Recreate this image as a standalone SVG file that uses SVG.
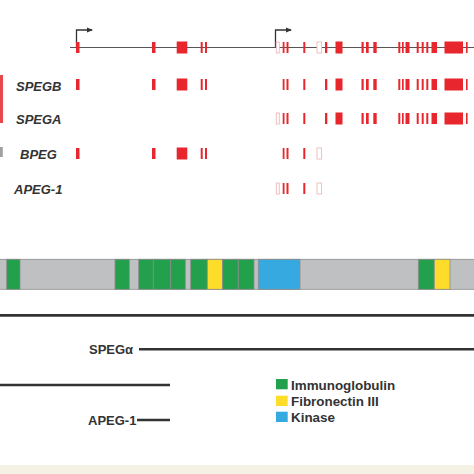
<svg xmlns="http://www.w3.org/2000/svg" width="474" height="474" viewBox="0 0 474 474">
<style>
.ex{fill:#e8262d}
.op{fill:#fff;stroke:#f0b8b8;stroke-width:0.9}
.gl{stroke:#555;stroke-width:1;fill:none}
.lbl{font-family:"Liberation Sans",Arial,sans-serif;font-weight:bold;font-style:italic;font-size:13px;fill:#333}
.plbl{font-family:"Liberation Sans",Arial,sans-serif;font-weight:bold;font-size:13px;fill:#333}
.leg{font-family:"Liberation Sans",Arial,sans-serif;font-weight:bold;font-size:13.4px;fill:#333}
.dom{stroke:#8c8c8c;stroke-width:0.8}
.g{fill:#22a04b}.y{fill:#fedc2a}.b{fill:#36a9e1}.gr{fill:#bfc0c2}
.pl{stroke:#333;stroke-width:2.6}
</style>
<defs>
<marker id="ah" markerWidth="6" markerHeight="6" refX="5" refY="3" orient="auto" markerUnits="userSpaceOnUse">
<path d="M0,0.5 L6,3 L0,5.5 z" fill="#333"/>
</marker>
<g id="exL">
<rect class="ex" x="76" y="-5.5" width="3.5" height="11"/>
<rect class="ex" x="152" y="-5.5" width="3.5" height="11"/>
<rect class="ex" x="176.7" y="-6" width="10.6" height="12"/>
<rect class="ex" x="200.7" y="-5.5" width="2" height="11"/>
<rect class="ex" x="205" y="-5.5" width="2" height="11"/>
</g>
<g id="exR1">
<rect class="ex" x="282.7" y="-5.5" width="1.8" height="11"/>
<rect class="ex" x="286.5" y="-5.5" width="2" height="11"/>
<rect class="ex" x="303.3" y="-5.5" width="2" height="11"/>
</g>
<g id="exR2">
<rect class="ex" x="325" y="-5.5" width="2.3" height="11"/>
<rect class="ex" x="335.5" y="-6" width="7" height="12"/>
<rect class="ex" x="361.5" y="-5.5" width="2.2" height="11"/>
<rect class="ex" x="366" y="-5.5" width="2.7" height="11"/>
<rect class="ex" x="373.3" y="-5.5" width="3.4" height="11"/>
<rect class="ex" x="398.3" y="-5.5" width="2" height="11"/>
<rect class="ex" x="402" y="-5.5" width="1.7" height="11"/>
<rect class="ex" x="405.5" y="-5.5" width="4" height="11"/>
<rect class="ex" x="416.7" y="-5.5" width="2" height="11"/>
<rect class="ex" x="421.7" y="-5.5" width="2" height="11"/>
<rect class="ex" x="426.3" y="-5.5" width="2" height="11"/>
<rect class="ex" x="431.5" y="-5.5" width="5.5" height="11"/>
<rect class="ex" x="444.5" y="-6" width="18.5" height="12"/>
<rect class="ex" x="466" y="-5.5" width="1.6" height="11"/>
</g>
<rect id="opA" class="op" x="276.3" y="-5.5" width="3" height="11"/>
<rect id="opB" class="op" x="317" y="-5.5" width="4.6" height="11"/>
</defs>

<g id="connectors">
<line class="gl" x1="70" y1="47.5" x2="474" y2="47.5"/>
<path d="M76.5,47.5 V30 H92" fill="none" stroke="#333" stroke-width="1.3" marker-end="url(#ah)"/>
<path d="M275.5,47.5 V30 H291" fill="none" stroke="#333" stroke-width="1.3" marker-end="url(#ah)"/>
</g>

<g id="gene" transform="translate(0,47.5)">
<use href="#exL"/><use href="#opA"/><use href="#exR1"/><use href="#opB"/><use href="#exR2"/>
</g>

<g id="bars">
<rect x="0" y="75" width="3" height="48" fill="#e8474c"/>
<rect x="0" y="147" width="2.8" height="10" fill="#a0a0a0"/>
</g>

<g id="SPEGB">
<text class="lbl" x="16" y="91">SPEGB</text>
<g transform="translate(0,84.5)"><use href="#exL"/><use href="#exR1"/><use href="#exR2"/></g>
</g>
<g id="SPEGA">
<text class="lbl" x="16" y="124">SPEGA</text>
<g transform="translate(0,118.5)"><use href="#opA"/><use href="#exR1"/><use href="#exR2"/></g>
</g>
<g id="BPEG">
<text class="lbl" x="20" y="159">BPEG</text>
<g transform="translate(0,153.5)"><use href="#exL"/><use href="#exR1"/><use href="#opB"/></g>
</g>
<g id="APEG1">
<text class="lbl" x="14" y="193.5">APEG-1</text>
<g transform="translate(0,188.5)"><use href="#opA"/><use href="#exR1"/><use href="#opB"/></g>
</g>

<g id="protein">
<rect class="gr dom" x="-2" y="259.3" width="480" height="30"/>
<rect class="g dom" x="6.7" y="259.3" width="13.3" height="30"/>
<rect class="g dom" x="115" y="259.3" width="14.3" height="30"/>
<rect class="g dom" x="138.7" y="259.3" width="14.6" height="30"/>
<rect class="g dom" x="153.3" y="259.3" width="17.4" height="30"/>
<rect class="g dom" x="170.7" y="259.3" width="14.6" height="30"/>
<rect class="g dom" x="190.7" y="259.3" width="16.6" height="30"/>
<rect class="y dom" x="207.3" y="259.3" width="15.4" height="30"/>
<rect class="g dom" x="222.7" y="259.3" width="15.6" height="30"/>
<rect class="g dom" x="238.3" y="259.3" width="15.7" height="30"/>
<rect class="b dom" x="258.3" y="259.3" width="41.7" height="30"/>
<rect class="g dom" x="418.3" y="259.3" width="16" height="30"/>
<rect class="y dom" x="434.3" y="259.3" width="15.7" height="30"/>
</g>

<g id="isoforms">
<line x1="0" y1="315.3" x2="474" y2="315.3" stroke="#333" stroke-width="2.8"/>
<text class="plbl" x="89" y="354">SPEGα</text>
<line class="pl" x1="139" y1="349.3" x2="474" y2="349.3"/>
<line class="pl" x1="0" y1="385" x2="170" y2="385"/>
<text class="plbl" x="88" y="424.5">APEG-1</text>
<line class="pl" x1="137" y1="420" x2="170" y2="420"/>
</g>

<g id="legend">
<rect class="g" x="276" y="379" width="11.7" height="10.3"/>
<text class="leg" x="291" y="389.5">Immunoglobulin</text>
<rect class="y" x="276" y="395.7" width="11.7" height="10.3"/>
<text class="leg" x="291" y="406">Fibronectin III</text>
<rect class="b" x="276" y="411.7" width="11.7" height="10.3"/>
<text class="leg" x="291" y="422">Kinase</text>
</g>

<rect x="0" y="465" width="474" height="9" fill="#f5f1e4"/>
</svg>
